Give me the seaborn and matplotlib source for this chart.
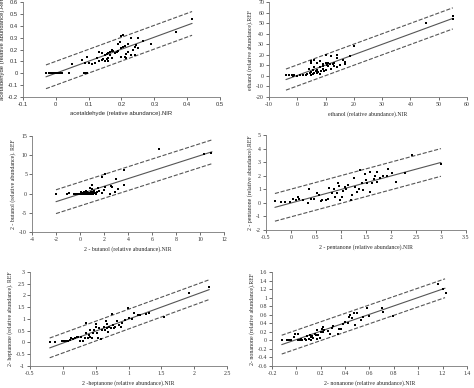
import numpy as np
import pandas as pd
import matplotlib
matplotlib.use('Agg')
import matplotlib.pyplot as plt
import seaborn as sns

# --- acetaldehyde ---
acet_nir = [-0.03, -0.02, -0.015, -0.01, -0.005, 0.0, 0.005, 0.01, 0.015, 0.02, 0.04, 0.085, 0.09, 0.095,
            0.05, 0.08, 0.09, 0.095, 0.10, 0.11, 0.12, 0.125, 0.13, 0.13, 0.14, 0.14, 0.145, 0.15, 0.155,
            0.16, 0.16, 0.165, 0.17, 0.17, 0.165, 0.175, 0.18, 0.16, 0.155, 0.15, 0.17, 0.185, 0.19, 0.195,
            0.20, 0.205, 0.20, 0.205, 0.21, 0.215, 0.215, 0.22, 0.22, 0.23, 0.23, 0.235, 0.24, 0.245, 0.25,
            0.25, 0.265, 0.29, 0.365, 0.415, 0.19, 0.21, 0.20, 0.24]
acet_ref = [0.0, 0.0, 0.0, 0.0, 0.0, 0.0, 0.0, 0.0, 0.0, 0.0, 0.0, 0.0, 0.0, 0.0,
            0.08, 0.11, 0.09, 0.14, 0.09, 0.08, 0.09, 0.13, 0.18, 0.10, 0.11, 0.17, 0.12, 0.15, 0.16,
            0.17, 0.10, 0.18, 0.19, 0.20, 0.15, 0.19, 0.17, 0.13, 0.12, 0.10, 0.13, 0.18, 0.19, 0.26,
            0.31, 0.32, 0.14, 0.22, 0.23, 0.13, 0.16, 0.18, 0.25, 0.30, 0.15, 0.20, 0.22, 0.24, 0.30,
            0.21, 0.27, 0.25, 0.35, 0.46, 0.25, 0.14, 0.21, 0.15]

# --- ethanol ---
eth_nir = [-4, -3, -2, -1.5, -1, 0, 1, 2, 3, 4, 4.5, 5, 5, 5.5, 5, 6, 5.5, 6, 6.5, 7, 7, 7.5, 8, 8, 8.5,
           8, 9, 9, 9.5, 10, 10, 10.5, 11, 11, 11.5, 12, 12, 12.5, 13, 13, 14, 14, 14, 15, 16, 17, 17,
           18.5, 20, 45.5, 55, 55, 7, 6, 9, 3.5, 4.8, 10]
eth_ref = [1, 0.5, 1, 0, 1, 0, 1, 1, 1, 7, 3, 4, 12, 6, 14, 15, 2, 3, 5, 6, 3, 4, 8, 14, 5,
           2, 7, 9, 5, 6, 20, 10, 9, 12, 11, 7, 19, 11, 9, 12, 8, 17, 20, 10, 15, 11, 13,
           19, 28, 50, 54, 57, 12, 8, 11, 2, 1, 12]

# --- 2-butanol ---
but_nir = [-2, -1.1, -0.9, -0.5, -0.3, 0, 0.1, 0.2, 0.3, 0.4, 0.5, 0.5, 0.6, 0.7, 0.8, 0.9, 1.0, 1.0,
           1.1, 1.2, 1.3, 1.4, 1.5, 1.6, 1.8, 2.0, 1.8, 2.1, 2.5, 2.7, 2.6, 3.0, 3.2, 3.7, 3.7, 6.6,
           10.3, 10.9, 0.2, 0.35, 0.45, 0.65, 0.75, 0.85, 0.95, 1.05, 1.15, 1.25, -0.2, 2.1, 2.9]
but_ref = [0, 0, 0.2, 0, -0.1, 0, 0.3, 0, 0.5, 0.2, 0, 0.8, 0.3, 0.1, 1.5, 0.5, 1.2, 2.2,
           0.4, 0.8, 0, 0.3, 1.5, 0.6, 0.2, 0.9, 4.3, 5.0, 0, 1.6, 2.0, 3.9, 1.3, 6.1, 2.3, 11.5,
           10.2, 10.6, 0.1, 0, 0.1, 0, 0.1, 0, 0, 0, 0.1, 0.2, 0, 1.8, 0.5]

# --- 2-pentanone ---
pent_nir = [-0.31, -0.19, -0.12, -0.02, 0.05, 0.10, 0.14, 0.17, 0.24, 0.34, 0.37, 0.40, 0.47, 0.53,
            0.56, 0.60, 0.63, 0.70, 0.75, 0.77, 0.82, 0.86, 0.89, 0.92, 0.95, 0.97, 0.99, 1.02, 1.05,
            1.08, 1.10, 1.15, 1.20, 1.23, 1.26, 1.28, 1.33, 1.36, 1.38, 1.42, 1.44, 1.48, 1.51, 1.53,
            1.58, 1.59, 1.62, 1.66, 1.69, 1.72, 1.73, 1.79, 1.85, 1.92, 1.95, 2.02, 2.10, 2.28, 2.43, 3.0]
pent_ref = [0.12, 0.07, 0.10, 0.10, 0.30, 0.20, 0.45, 0.30, 0.20, 0.0, 1.0, 0.25, 0.30, 0.70,
            0.55, 0.15, 0.20, 0.20, 0.30, 1.10, 0.70, 1.00, 0.45, 0.70, 1.45, 1.25, 0.20, 0.45, 0.85,
            1.20, 1.00, 1.30, 0.20, 0.55, 1.80, 1.15, 0.80, 1.05, 2.40, 1.50, 0.95, 2.15, 1.70, 1.45,
            0.80, 2.30, 1.45, 1.75, 1.95, 2.30, 1.55, 1.80, 2.00, 1.95, 2.50, 2.20, 1.55, 2.20, 3.55, 2.9]

# --- 2-heptanone ---
hept_nir = [-0.20, -0.12, -0.01, 0.02, 0.05, 0.08, 0.11, 0.13, 0.16, 0.18, 0.21, 0.23, 0.26, 0.28,
            0.31, 0.33, 0.35, 0.36, 0.38, 0.40, 0.41, 0.42, 0.44, 0.46, 0.48, 0.50, 0.51, 0.52, 0.53,
            0.55, 0.58, 0.60, 0.63, 0.64, 0.65, 0.67, 0.68, 0.69, 0.71, 0.73, 0.75, 0.76, 0.78, 0.80,
            0.83, 0.85, 0.88, 0.90, 0.95, 0.99, 1.00, 1.05, 1.09, 1.14, 1.17, 1.26, 1.31, 1.54, 1.92, 2.22]
hept_ref = [0.0, 0.0, 0.05, 0.07, 0.05, 0.07, 0.12, 0.18, 0.14, 0.18, 0.25, 0.25, 0.05, 0.25,
            0.07, 0.18, 0.82, 0.40, 0.18, 0.32, 0.53, 0.25, 0.18, 0.40, 0.53, 0.78, 0.68, 0.40, 0.18,
            0.60, 0.15, 0.53, 0.68, 0.53, 0.90, 0.60, 0.78, 0.46, 0.68, 0.63, 1.20, 0.75, 0.60, 0.68,
            0.90, 0.75, 0.68, 0.82, 0.97, 1.46, 1.05, 1.02, 1.24, 1.17, 1.17, 1.22, 1.24, 1.10, 2.10, 2.35]

# --- 2-nonanone ---
non_nir = [-0.12, -0.08, -0.06, -0.04, -0.02, -0.01, 0.01, 0.01, 0.03, 0.04, 0.05, 0.07, 0.08, 0.09,
           0.10, 0.11, 0.12, 0.12, 0.13, 0.14, 0.15, 0.16, 0.17, 0.17, 0.18, 0.19, 0.20, 0.21, 0.22,
           0.22, 0.23, 0.26, 0.28, 0.29, 0.30, 0.34, 0.35, 0.37, 0.38, 0.40, 0.42, 0.43, 0.44, 0.46,
           0.47, 0.48, 0.50, 0.53, 0.55, 0.58, 0.60, 0.70, 0.71, 0.79, 1.16, 1.20, 1.23]
non_ref = [0.0, 0.0, 0.0, 0.0, 0.08, 0.16, 0.14, 0.0, 0.02, 0.04, 0.0, 0.04, 0.0, 0.10,
           0.04, 0.13, 0.08, 0.0, 0.10, 0.05, 0.16, 0.12, 0.04, 0.24, 0.13, 0.05, 0.20, 0.26, 0.31,
           0.20, 0.24, 0.21, 0.16, 0.29, 0.34, 0.16, 0.26, 0.27, 0.39, 0.43, 0.41, 0.55, 0.60, 0.53,
           0.63, 0.36, 0.65, 0.47, 0.55, 0.75, 0.57, 0.76, 0.67, 0.57, 1.33, 1.20, 1.10]

# regression lines (end points) and prediction band half-widths
fit_x = {'acet': [-0.03, 0.415], 'eth': [-4, 55], 'but': [-2, 11],
         'pent': [-0.32, 3.0], 'hept': [-0.2, 2.23], 'non': [-0.12, 1.22]}
fit_y = {'acet': [-0.03, 0.42], 'eth': [-3.5, 54.5], 'but': [-2.1, 10.9],
         'pent': [-0.33, 2.98], 'hept': [-0.23, 2.25], 'non': [-0.1, 1.22]}
band = {'acet': 0.1, 'eth': 10, 'but': 3.1, 'pent': 1.02, 'hept': 0.42, 'non': 0.22}

sns.set_theme(style='ticks')


def draw_panel(ax, key, x, y, xticks, yticks, xlabel, ylabel, family):
    df = pd.DataFrame({'nir': x, 'ref': y})
    lx = np.array(fit_x[key])
    ly = np.array(fit_y[key])
    for off, ls in [(band[key], '--'), (-band[key], '--'), (0, '-')]:
        sns.lineplot(x=lx, y=ly + off, ax=ax, color='#555555', lw=0.8,
                     linestyle=ls, dashes=False if ls == '-' else (5, 3))
    sns.scatterplot(data=df, x='nir', y='ref', ax=ax, color='black', marker='s',
                    s=4, linewidth=0, zorder=3)
    ax.set_xlim(xticks[0], xticks[-1])
    ax.set_ylim(yticks[0], yticks[-1])
    ax.set_xticks(xticks)
    ax.set_yticks(yticks)
    ax.set_xticklabels([f'{round(v, 2):g}' for v in xticks], family=family, fontsize=4.2)
    ax.set_yticklabels([f'{round(v, 2):g}' for v in yticks], family=family, fontsize=4.2)
    ax.set_xlabel(xlabel, family=family, fontsize=4.2, labelpad=3)
    ax.set_ylabel(ylabel, family=family, fontsize=4.2, labelpad=2)
    ax.tick_params(length=2, width=0.5, pad=1.5, colors='#333333')
    for s in ['left', 'bottom']:
        ax.spines[s].set_linewidth(0.6)
        ax.spines[s].set_color('#777777')
    sns.despine(ax=ax)


fig = plt.figure(figsize=(4.74, 3.88), dpi=100)
ax1 = fig.add_axes([0.0485, 0.75, 0.4156, 0.2448])
ax2 = fig.add_axes([0.5675, 0.75, 0.4177, 0.2448])
ax3 = fig.add_axes([0.0675, 0.402, 0.405, 0.2474])
ax4 = fig.add_axes([0.561, 0.4072, 0.4220, 0.2448])
ax5 = fig.add_axes([0.0633, 0.0567, 0.4156, 0.2423])
ax6 = fig.add_axes([0.5738, 0.0567, 0.4114, 0.2423])

sans = 'Liberation Sans'
serif = 'Liberation Serif'

draw_panel(ax1, 'acet', acet_nir, acet_ref, np.arange(-0.1, 0.51, 0.1), np.arange(-0.2, 0.61, 0.1),
           'acetaldehyde (relative abundance).NIR', 'acetaldehyde (relative abundance).Ref', sans)
draw_panel(ax2, 'eth', eth_nir, eth_ref, np.arange(-10, 61, 10), np.arange(-20, 71, 10),
           'ethanol (relative abundance).NIR', 'ethanol (relative abundance).REF', serif)
draw_panel(ax3, 'but', but_nir, but_ref, np.arange(-4, 13, 2), np.arange(-10, 16, 5),
           '2 - butanol (relative abundance).NIR', '2 - butanol (relative abundance). REF', serif)
draw_panel(ax4, 'pent', pent_nir, pent_ref, np.arange(-0.5, 3.6, 0.5), np.arange(-2, 6, 1),
           '2 - pentanone (relative abundance).NIR', '2 - pentanone (relative abundance).REF', serif)
draw_panel(ax5, 'hept', hept_nir, hept_ref, np.arange(-0.5, 2.6, 0.5), np.arange(-1, 3.1, 0.5),
           '2 -heptanone (relative abundance).NIR', '2- heptanone (relative abundance). REF', serif)
draw_panel(ax6, 'non', non_nir, non_ref, np.arange(-0.2, 1.41, 0.2), np.arange(-0.6, 1.61, 0.2),
           '2- nonanone (relative abundance).NIR', '2- nonanone (relative abundance).REF', serif)

fig.savefig('out.png', dpi=100)
